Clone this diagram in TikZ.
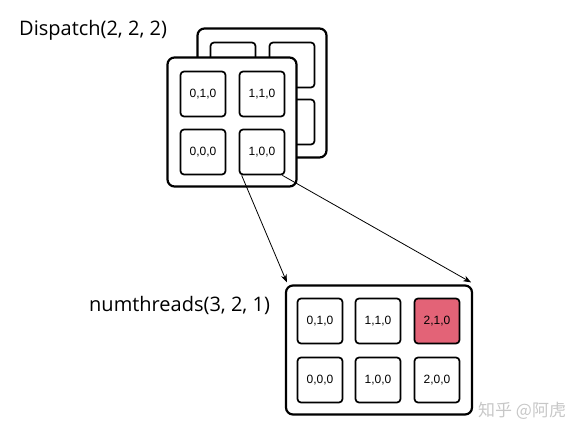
\documentclass[tikz,border=0pt]{standalone}
\usepackage{fontspec}
\setmainfont{Open Sans}
\newfontfamily\boxfont{Liberation Sans}
\newfontfamily\cjk{Noto Sans CJK SC}
\usetikzlibrary{arrows.meta}
\definecolor{pinkred}{HTML}{E36377}
\begin{document}
\begin{tikzpicture}[x=1pt,y=-1pt,
  outerbox/.style={draw=black,line width=2.2pt,rounded corners=7pt,fill=white,minimum width=#1,minimum height=129pt,inner sep=0pt},
  cellbox/.style={draw=black,line width=1.7pt,rounded corners=3.5pt,fill=white,minimum width=45pt,minimum height=45pt,inner sep=0pt,font=\boxfont\fontsize{12}{14}\selectfont},
  conn/.style={-{Stealth[length=8pt,width=6pt]},line width=0.8pt},
  lbl/.style={font=\fontsize{20}{24}\selectfont,inner sep=0pt}]
\useasboundingbox (0,0) rectangle (586,436);
% back group
\node[outerbox=129pt] (back) at (262,93) {};
\node[cellbox] (b010) at (233,65) {};
\node[cellbox] (b110) at (292,65) {};
\node[cellbox] (b000) at (233,122) {};
\node[cellbox] (b100) at (292,122) {};
% front group
\node[outerbox=129pt] (front) at (232,122) {};
\node[cellbox] (f010) at (203,94) {0,1,0};
\node[cellbox] (f110) at (262,94) {1,1,0};
\node[cellbox] (f000) at (203,152) {0,0,0};
\node[cellbox] (f100) at (262,152) {1,0,0};
% thread group
\node[outerbox=186pt] (thr) at (379,350) {};
\node[cellbox] (t010) at (320,321) {0,1,0};
\node[cellbox] (t110) at (378,321) {1,1,0};
\node[cellbox,fill=pinkred] (t210) at (437,321) {2,1,0};
\node[cellbox] (t000) at (320,380) {0,0,0};
\node[cellbox] (t100) at (378,380) {1,0,0};
\node[cellbox] (t200) at (437,380) {2,0,0};
% labels
\node[lbl,anchor=west] (dlabel) at (19,30) {Dispatch(2, 2, 2)};
\node[lbl,anchor=west] (nlabel) at (89,305) {numthreads(3, 2, 1)};
\node[font=\cjk\fontsize{17}{19}\selectfont,text=black!22,anchor=west,inner sep=0pt] (wm) at (478,411) {知乎 @阿虎};
% connectors
\draw[conn] ([xshift=3pt]f100.south west) -- ([xshift=2pt,yshift=2pt]thr.north west);
\draw[conn] ([xshift=-3pt]f100.south east) -- ([xshift=-2pt,yshift=2pt]thr.north east);
\end{tikzpicture}
\end{document}
